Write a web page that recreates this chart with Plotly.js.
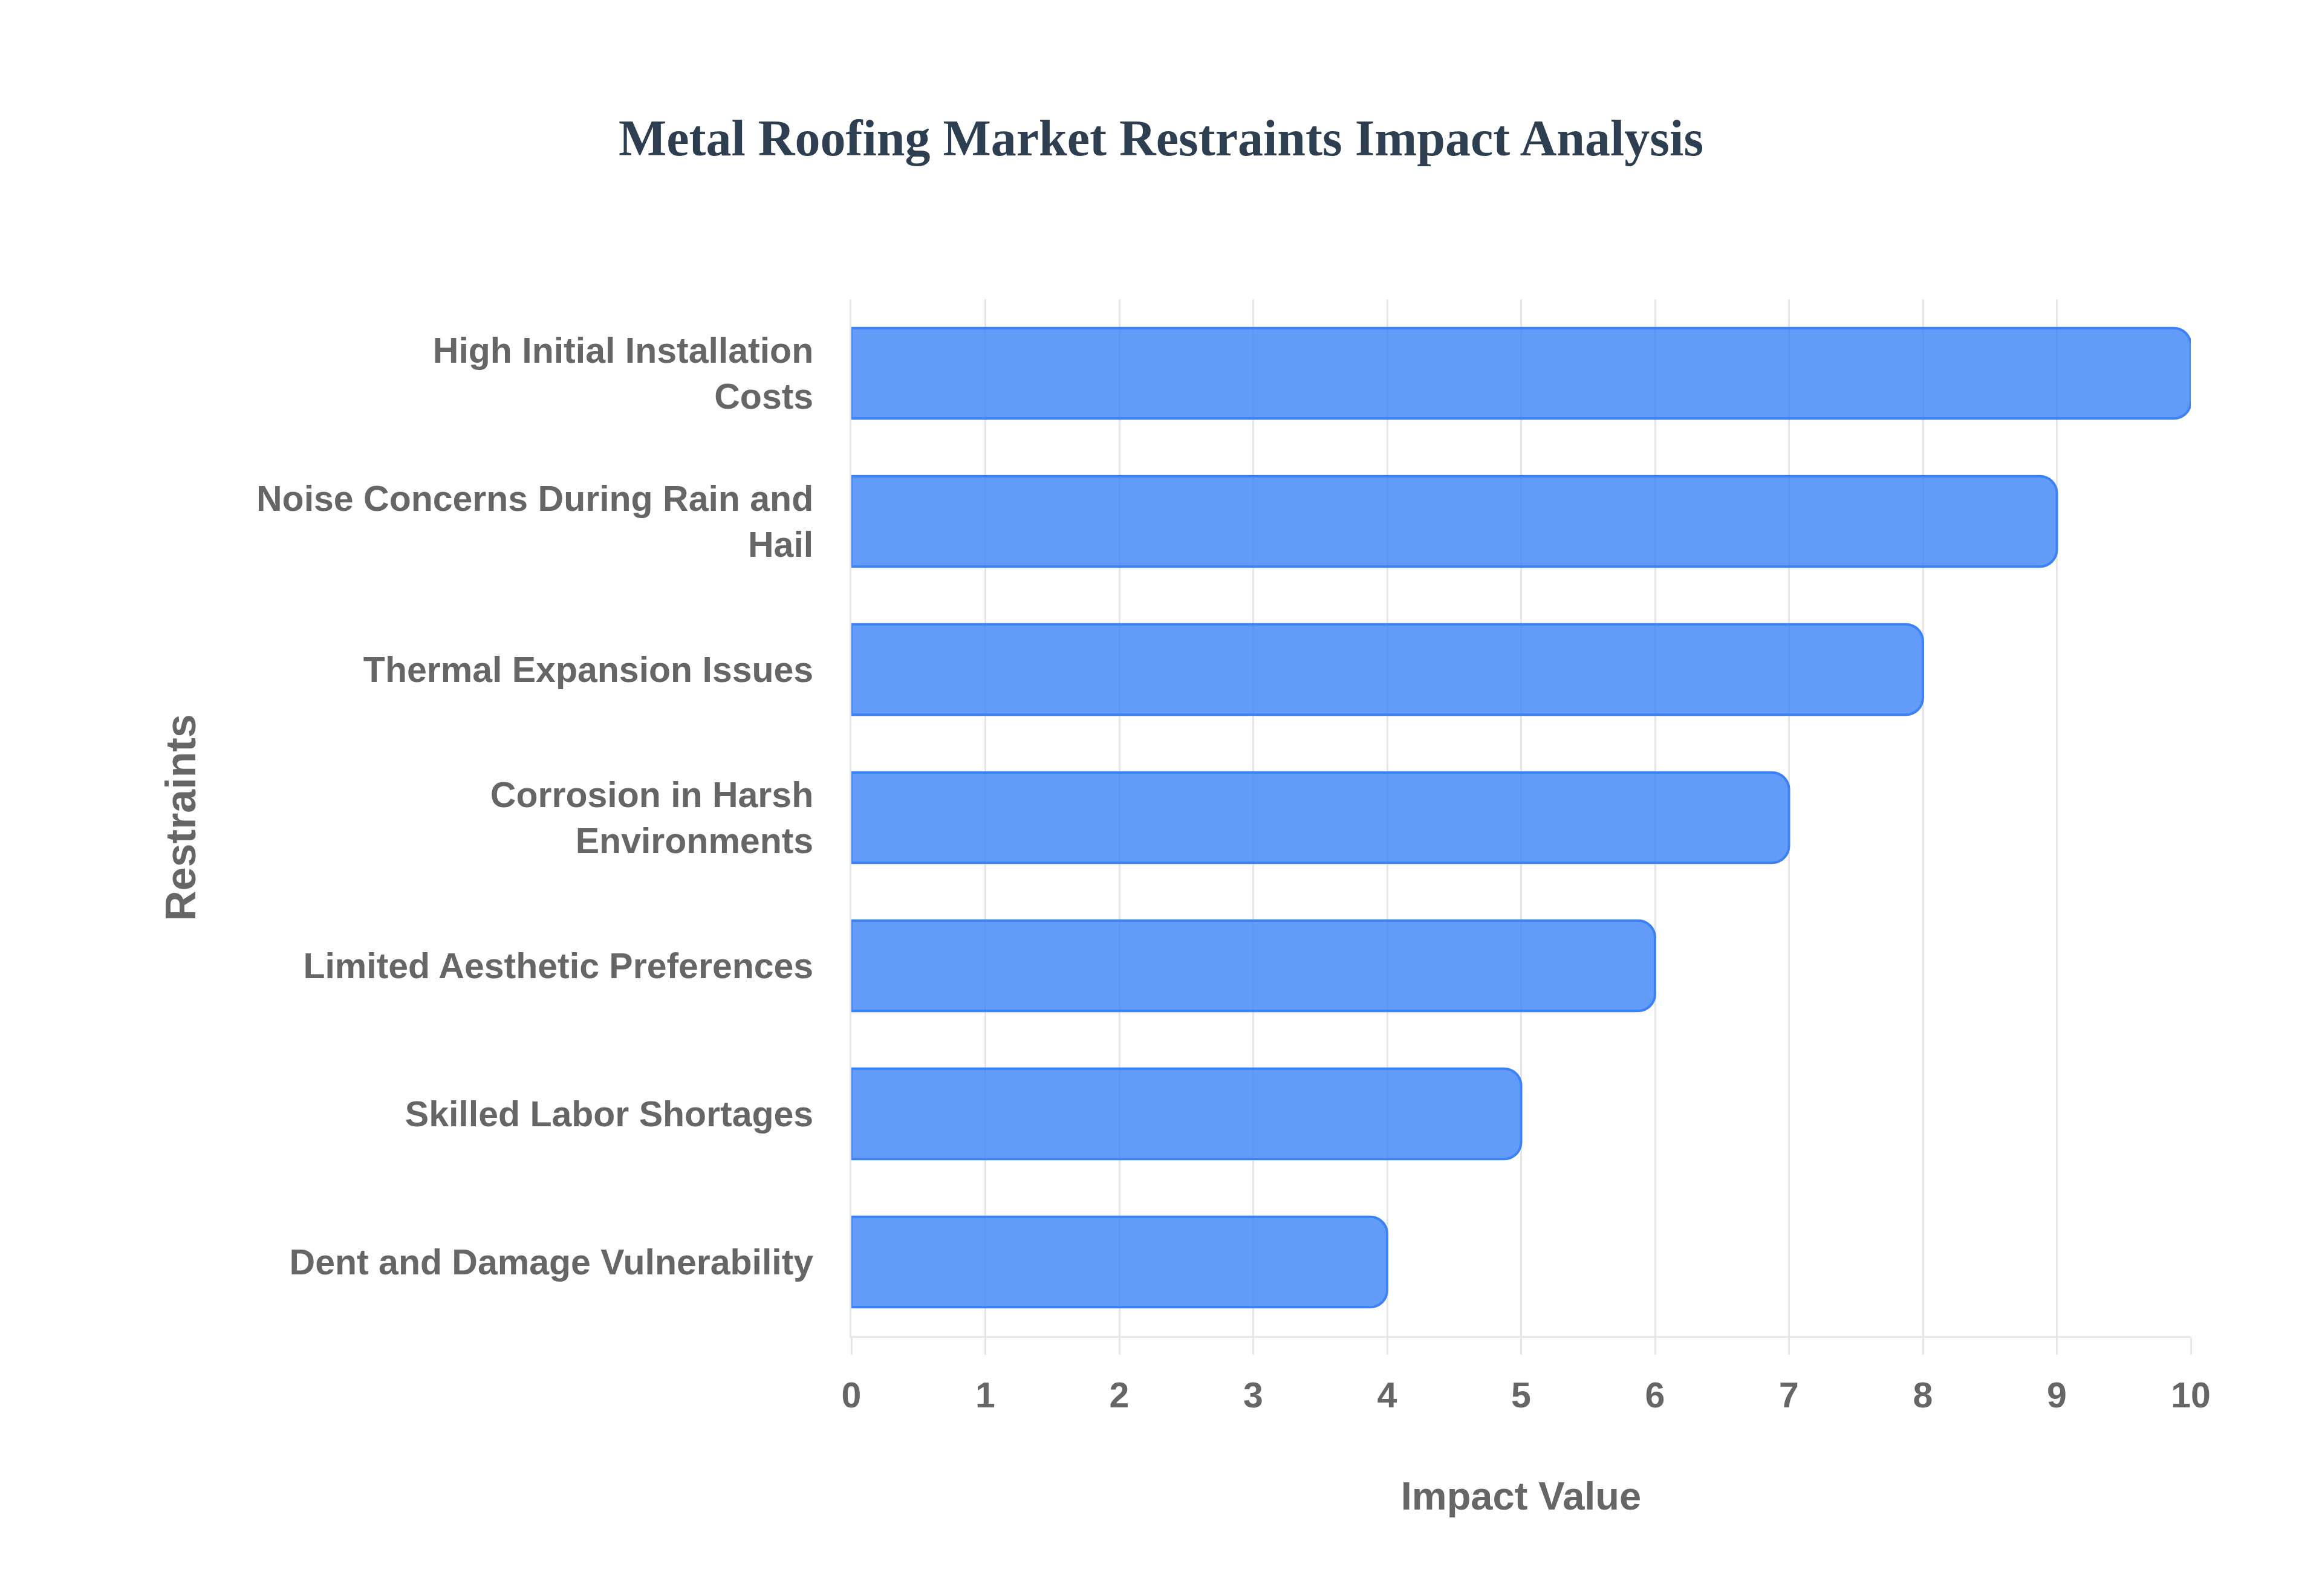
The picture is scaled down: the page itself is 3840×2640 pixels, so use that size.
<!DOCTYPE html>
<html lang="en">
  <head>
    <meta charset="utf-8">
    <title>Metal Roofing Market Restraints</title>
    <script src="https://cdn.plot.ly/plotly-3.0.1.min.js" charset="utf-8"></script>
    <style>
      body { margin: 0; background: #fff; }
    </style>
  </head>
  <body>
    <div id="plot" style="width:3840px;height:2640px"></div>
    <script type="text/javascript">
      // restraints, top to bottom as in the chart
      const restraints = [
        "High Initial Installation<br>Costs",
        "Noise Concerns During Rain and<br>Hail",
        "Thermal Expansion Issues",
        "Corrosion in Harsh<br>Environments",
        "Limited Aesthetic Preferences",
        "Skilled Labor Shortages",
        "Dent and Damage Vulnerability"
      ];
      const impactValues = [10, 9, 8, 7, 6, 5, 4];
      const xTicks = [0, 1, 2, 3, 4, 5, 6, 7, 8, 9, 10];

      const GREY = '#666666';
      const GRID = '#e6e6e6';
      const SANS = 'Liberation Sans, Arial, sans-serif';

      const trace = {
        type: 'bar',
        orientation: 'h',
        x: impactValues,
        y: restraints,
        marker: {
          color: 'rgba(59,130,246,0.8)',
          line: { color: '#3b82f6', width: 4 },
          cornerradius: 28
        },
        hoverinfo: 'x+y'
      };

      const layout = {
        width: 3840,
        height: 2640,
        paper_bgcolor: '#ffffff',
        plot_bgcolor: '#ffffff',
        margin: { l: 1408, r: 217, t: 495, b: 430 },
        bargap: 0.39,
        showlegend: false,
        title: {
          text: 'Metal Roofing Market Restraints Impact Analysis',
          font: { family: 'Liberation Serif, Times New Roman, serif', size: 84, color: '#2c3e50', weight: 700 },
          x: 0.5,
          xref: 'container',
          xanchor: 'center',
          y: 1 - 228 / 2640,
          yref: 'container',
          yanchor: 'middle'
        },
        xaxis: {
          range: [0, 10],
          tickvals: xTicks,
          showgrid: true,
          gridcolor: GRID,
          gridwidth: 3,
          zeroline: false,
          showline: true,
          linecolor: GRID,
          linewidth: 3,
          ticks: 'outside',
          ticklen: 28,
          tickwidth: 3,
          tickcolor: GRID,
          ticklabelstandoff: 16,
          tickfont: { family: SANS, size: 59, color: GREY, weight: 700 },
          title: {
            text: 'Impact Value',
            font: { family: SANS, size: 65, color: GREY, weight: 700 },
            standoff: 112
          }
        },
        yaxis: {
          autorange: 'reversed',
          showgrid: false,
          zeroline: false,
          showline: true,
          linecolor: GRID,
          linewidth: 3,
          ticks: '',
          ticklabelstandoff: 48,
          tickfont: { family: SANS, size: 59, color: GREY, weight: 700 },
          title: {
            text: 'Restraints',
            font: { family: SANS, size: 70, color: GREY, weight: 700 },
            standoff: 78
          }
        }
      };

      Plotly.newPlot(document.getElementById('plot'), [trace], layout, { displayModeBar: false, staticPlot: true });
    </script>
  </body>
</html>
